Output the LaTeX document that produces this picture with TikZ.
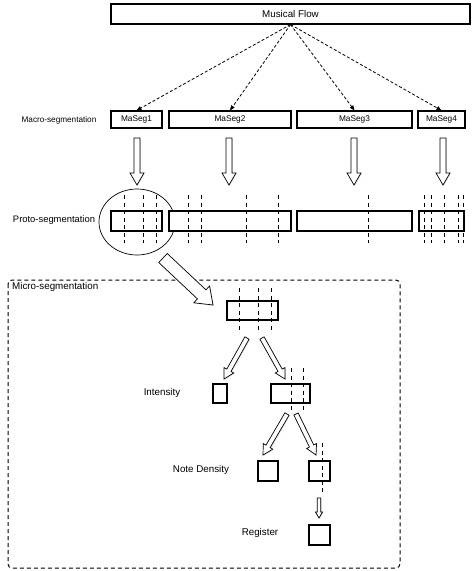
\documentclass[tikz,border=0pt]{standalone}
\usepackage{fontspec}
\setmainfont{Liberation Sans}
\usetikzlibrary{arrows.meta,shapes.geometric,calc,shadows}
\newcommand{\hollowarrow}[5]{%
  \coordinate (hac) at ($(#2)!#5!(#1)$);
  \draw[hollow] ($(#1)!#3!90:(#2)$) -- ($(hac)!#3!90:(#2)$) -- ($(hac)!#4!90:(#2)$) -- (#2)
     -- ($(hac)!#4!-90:(#2)$) -- ($(hac)!#3!-90:(#2)$) -- ($(#1)!#3!-90:(#2)$) -- cycle;}
\begin{document}
\begin{tikzpicture}[x=1pt,y=-1pt,
  box/.style={draw,line width=1.1pt,inner sep=0pt,fill=white,
    drop shadow={shadow xshift=0.9pt,shadow yshift=-0.9pt,opacity=0.3}},
  hollow/.style={draw,line width=0.7pt,fill=white,line join=miter,
    drop shadow={shadow xshift=0.8pt,shadow yshift=-0.8pt,opacity=0.25}},
  vdash/.style={line width=0.9pt,dash pattern=on 4pt off 3.5pt},
  darrow/.style={line width=0.8pt,dash pattern=on 3pt off 2pt,-{Triangle[length=5pt,width=4pt]}},
  lbl/.style={font=\fontsize{9.8}{11}\selectfont,inner sep=0pt},
  segtxt/.style={font=\fontsize{8.3}{10}\selectfont}]
\useasboundingbox (0,0) rectangle (474,571);
\fill[white] (0,0) rectangle (474,571);

% micro frame
\draw[line width=1pt,dash pattern=on 4pt off 3pt,rounded corners=4pt] (8,280) rectangle (400,568);
\node[lbl,anchor=west] (microlbl) at (12,287) {Micro-segmentation};

% top
\node[box,minimum width=359pt,minimum height=20pt,font=\fontsize{9.8}{11}\selectfont] (flow) at (290.5,14) {Musical Flow};

% macro
\node[lbl,font=\fontsize{8.2}{10}\selectfont] (macrolbl) at (59,120) {Macro-segmentation};
\node[box,segtxt,minimum width=51pt,minimum height=17pt] (m1) at (136.5,119.5) {MaSeg1};
\node[box,segtxt,minimum width=122pt,minimum height=17pt] (m2) at (230,119.5) {MaSeg2};
\node[box,segtxt,minimum width=115pt,minimum height=17pt] (m3) at (354.5,119.5) {MaSeg3};
\node[box,segtxt,minimum width=47pt,minimum height=17pt] (m4) at (441.5,119.5) {MaSeg4};

\foreach \m in {m1,m2,m3,m4}
  \draw[darrow] (flow.south) -- (\m.north);

% proto
\node[lbl,font=\fontsize{9.4}{11}\selectfont] (protolbl) at (54,220) {Proto-segmentation};
\node[draw,ellipse,line width=0.7pt,minimum width=76pt,minimum height=66pt] (e) at (137,222) {};
\node[box,minimum width=51pt,minimum height=20pt] (p1) at (136.5,221) {};
\node[box,minimum width=122pt,minimum height=20pt] (p2) at (230,221) {};
\node[box,minimum width=115pt,minimum height=20pt] (p3) at (354.5,221) {};
\node[box,minimum width=45pt,minimum height=20pt] (p4) at (441.5,221) {};

\foreach \x in {124,143,156,188,201,246,278,368,424,431,444,458,463}
  \draw[vdash] (\x,195) -- (\x,243);

% down arrows
\foreach \i/\x in {1/137,2/229,3/354,4/443}{
  \coordinate (ds\i) at (\x,138);
  \coordinate (de\i) at (\x,185);
  \hollowarrow{ds\i}{de\i}{3pt}{7pt}{12pt}
}

% big arrow into micro
\coordinate (bs) at (163,258);
\coordinate (be) at (213,305);
\hollowarrow{bs}{be}{6.2pt}{11.5pt}{15.5pt}

% micro level
\node[box,minimum width=51pt,minimum height=19pt] (t0) at (252.5,310.5) {};
\foreach \x in {239,258,271}
  \draw[vdash] (\x,288) -- (\x,333);

\node[lbl] (intlbl) at (162,393) {Intensity};
\node[box,minimum width=14pt,minimum height=19pt] (ib) at (220,393.5) {};
\node[box,minimum width=39pt,minimum height=19pt] (b2) at (290.5,393.5) {};
\foreach \x in {291,303}
  \draw[vdash] (\x,368) -- (\x,413);

\coordinate (a1s) at (247,338); \coordinate (a1e) at (224,379);
\coordinate (a2s) at (262,338); \coordinate (a2e) at (285,379);
\hollowarrow{a1s}{a1e}{2.4pt}{5.5pt}{10pt}
\hollowarrow{a2s}{a2e}{2.4pt}{5.5pt}{10pt}

\node[lbl] (ndlbl) at (201,470) {Note Density};
\node[box,minimum width=20pt,minimum height=20pt] (nd1) at (268,471) {};
\node[box,minimum width=21pt,minimum height=20pt] (nd2) at (319.5,471) {};
\draw[vdash] (322,443) -- (322,492);

\coordinate (a3s) at (287,414); \coordinate (a3e) at (263,455);
\coordinate (a4s) at (296,414); \coordinate (a4e) at (316,455);
\hollowarrow{a3s}{a3e}{2.4pt}{5.5pt}{10pt}
\hollowarrow{a4s}{a4e}{2.4pt}{5.5pt}{10pt}

\coordinate (a5s) at (319,498); \coordinate (a5e) at (319,518);
\hollowarrow{a5s}{a5e}{1.7pt}{3.6pt}{6pt}

\node[lbl] (reglbl) at (260,533) {Register};
\node[box,minimum width=21pt,minimum height=20pt] (rg) at (319.5,535) {};
\end{tikzpicture}
\end{document}
